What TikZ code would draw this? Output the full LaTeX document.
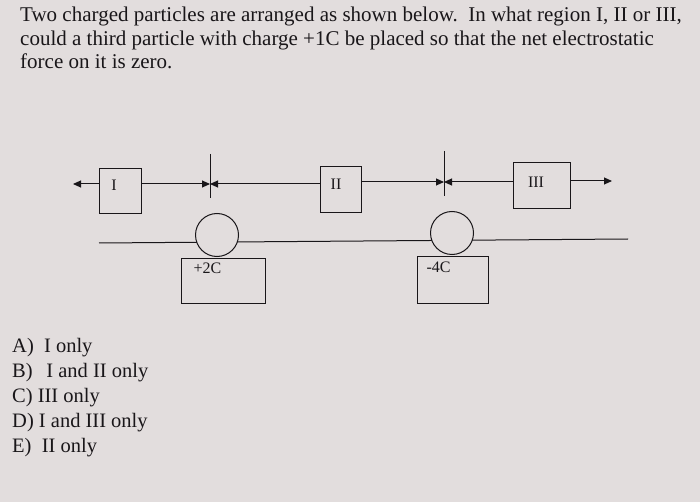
\documentclass[tikz,border=0pt]{standalone}
\usepackage{fontspec}
\setmainfont{Liberation Serif}
\usetikzlibrary{arrows.meta}
\definecolor{paper}{RGB}{226,221,221}
\definecolor{ink}{RGB}{25,22,25}
\begin{document}
\begin{tikzpicture}[x=1pt,y=-1pt,
  bx/.style={draw=ink,line width=1pt,inner sep=0pt},
  ln/.style={draw=ink,line width=1pt},
  ar/.style={ln,-{Triangle[length=8pt,width=7pt]}},
  txt/.style={text=ink,font=\fontsize{21}{23.5}\selectfont,anchor=north west,inner sep=0pt,align=left},
  ans/.style={text=ink,font=\fontsize{20.5}{25}\selectfont,anchor=north west,inner sep=0pt,align=left},
  lab/.style={text=ink,font=\fontsize{16}{18}\selectfont}]
\fill[paper] (0,0) rectangle (700,502);
\useasboundingbox (0,0) rectangle (700,502);
\node[txt] (q) at (20,7) {Two charged particles are arranged as shown below.\ \ In what region I, II or III,\\could a third particle with charge +1C be placed so that the net electrostatic\\force on it is zero.};
% regions
\node[bx,minimum width=42pt,minimum height=45pt] (b1) at (120,191) {};
\node[lab] (t1) at (114,185) {I};
\node[bx,minimum width=41pt,minimum height=46pt] (b2) at (340.5,190) {};
\node[lab] (t2) at (336,184) {II};
\node[bx,minimum width=57pt,minimum height=46pt] (b3) at (541.5,186) {};
\node[lab] (t3) at (536,182) {III};
\coordinate (k1t) at (210,154); \coordinate (k1b) at (210,198);
\coordinate (k2t) at (444,151); \coordinate (k2b) at (444,196);
\coordinate (k1) at (210,184); \coordinate (k2) at (444,182);
\coordinate (L) at (73,184); \coordinate (R) at (612,181);
\draw[ln] (k1t) -- (k1b);
\draw[ln] (k2t) -- (k2b);
\draw[ar] (b1.west |- L) -- (L);
\draw[ar] (b1.east |- k1) -- (k1);
\draw[ar] (b2.west |- k1) -- (k1);
\draw[ar] (b2.east |- k2) -- (k2);
\draw[ar] (b3.west |- k2) -- (k2);
\draw[ar] (b3.east |- R) -- (R);
% charges
\coordinate (lA) at (99,243); \coordinate (lB) at (628,239);
\draw[ln] (lA) -- (lB);
\node[ln,fill=paper,circle,minimum size=43pt,inner sep=0pt] (c1) at (217,235) {};
\node[ln,fill=paper,circle,minimum size=43pt,inner sep=0pt] (c2) at (452,233) {};
\node[bx,minimum width=84pt,minimum height=45pt] (q1) at (223,280.5) {};
\node[lab,anchor=west] (q1t) at (190,268) {+2C};
\node[bx,minimum width=71pt,minimum height=47pt] (q2) at (452.5,279.5) {};
\node[lab,anchor=west] (q2t) at (423,267) {-4C};
\node[ans] (ans) at (12,338) {A)\ \ I only\\B)\ \ \,I and II only\\C) III only\\D) I and III only\\E)\ \ II only};
\end{tikzpicture}
\end{document}
